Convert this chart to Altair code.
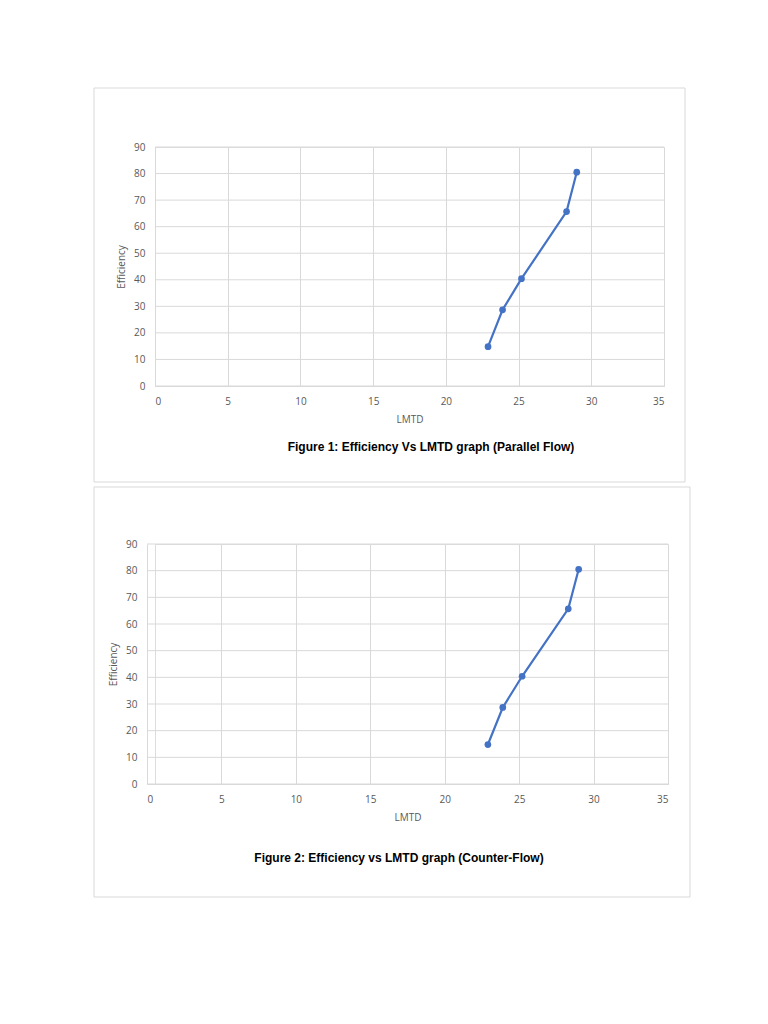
import altair as alt
import pandas as pd

lmtd = [22.9, 23.9, 25.2, 28.3, 29.0]
efficiency = [14.8, 28.7, 40.4, 65.7, 80.5]

x_ticks = [0, 5, 10, 15, 20, 25, 30, 35]
y_ticks = [0, 10, 20, 30, 40, 50, 60, 70, 80, 90]

captions = [
    "Figure 1: Efficiency Vs LMTD graph  (Parallel Flow)",
    "Figure 2: Efficiency vs LMTD graph (Counter-Flow)",
]

df = pd.DataFrame({"LMTD": lmtd, "Efficiency": efficiency})
grid_df = pd.DataFrame({"Efficiency": y_ticks})

FONT = "Open Sans"
GRID = "#d9d9d9"
LABEL = "#595959"
BLUE = "#4472C4"


def panel(caption, w, h, x_range, frame, cap_pos):
    y_scale = alt.Scale(domain=[0, 90], nice=False)
    y_axis = alt.Axis(values=y_ticks, grid=False, labelOverlap=False,
                      domain=False, ticks=False, offset=-x_range[0],
                      labelPadding=10, titlePadding=7,
                      labelFont=FONT, titleFont=FONT,
                      labelFontSize=10, titleFontSize=10,
                      labelColor=LABEL, titleColor=LABEL,
                      titleFontWeight="normal")
    x = alt.X("LMTD:Q", title="LMTD",
              scale=alt.Scale(domain=[0, 35], nice=False, range=x_range),
              axis=alt.Axis(values=x_ticks, grid=True, gridColor=GRID,
                            domain=True, domainColor=GRID, ticks=False,
                            labelPadding=10, titlePadding=8,
                            labelFont=FONT, titleFont=FONT,
                            labelFontSize=10, titleFontSize=10,
                            labelColor=LABEL, titleColor=LABEL,
                            titleFontWeight="normal"))
    y = alt.Y("Efficiency:Q", title="Efficiency", scale=y_scale, axis=y_axis)
    hgrid = alt.Chart(grid_df).mark_rule(color=GRID, strokeWidth=1).encode(
        y=y, x=alt.value(x_range[0]), x2=alt.value(x_range[1]))
    base = alt.Chart(df)
    line = base.mark_line(color=BLUE, strokeWidth=2.2).encode(x=x, y=y)
    pts = base.mark_point(color=BLUE, filled=True, size=45, opacity=1).encode(x=x, y=y)
    one = pd.DataFrame({"caption": [caption]})
    box = alt.Chart(one).mark_rect(filled=False, stroke=GRID, strokeWidth=1,
                                   fillOpacity=0, clip=False).encode(
        x=alt.value(frame[0]), x2=alt.value(frame[1]),
        y=alt.value(frame[2]), y2=alt.value(frame[3]))
    cap = alt.Chart(one).mark_text(font="Liberation Sans", fontSize=12,
                                   fontWeight="bold", color="#000000",
                                   align="center", baseline="middle").encode(
        text="caption:N", x=alt.value(cap_pos[0]), y=alt.value(cap_pos[1]))
    return alt.layer(box, hgrid, line, pts, cap).properties(width=w, height=h)


# panel 1: plot area 155..664 on the page; panel 2: 147..668
p1 = panel(captions[0], 509, 239, [0, 509], (-61, 530, -59, 335), (276, 300))
p2 = panel(captions[1], 513, 240, [-8, 513], (-61, 535, -57, 353), (244, 314))

chart = alt.vconcat(p1, p2, spacing=3).properties(
    padding={"left": 85, "top": 79, "right": 0, "bottom": 0}
).configure_view(stroke=None).configure(background="white")

chart.save("out.html", embed_options={"renderer": "svg", "actions": False})
